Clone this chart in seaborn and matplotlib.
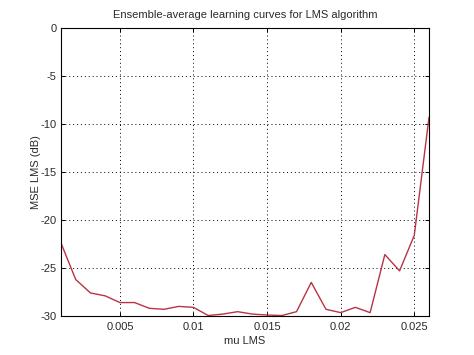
import numpy as np
import pandas as pd
import matplotlib
matplotlib.use("Agg")
import matplotlib.pyplot as plt
import seaborn as sns

mu = [0.001, 0.002, 0.003, 0.004, 0.005, 0.006, 0.007, 0.008, 0.009, 0.010,
      0.011, 0.012, 0.013, 0.014, 0.015, 0.016, 0.017, 0.018, 0.019, 0.020,
      0.021, 0.022, 0.023, 0.024, 0.025, 0.026]
mse_db = [-22.4, -26.2, -27.6, -27.9, -28.6, -28.6, -29.2, -29.3, -29.0, -29.1,
          -29.95, -29.8, -29.55, -29.8, -29.9, -29.95, -29.55, -26.5, -29.3, -29.65,
          -29.1, -29.65, -23.6, -25.3, -21.6, -9.3]
xticks = [0.005, 0.01, 0.015, 0.02, 0.025]
xticklabels = ["0.005", "0.01", "0.015", "0.02", "0.025"]
yticks = [0, -5, -10, -15, -20, -25, -30]

sns.set_style("white")
plt.rcParams['font.family'] = ['Liberation Sans', 'DejaVu Sans']
plt.rcParams['axes.unicode_minus'] = False

txt = "#2a2a2a"
df = pd.DataFrame({"mu": mu, "mse": mse_db})

fig = plt.figure(figsize=(4.74, 3.55), dpi=100)
ax = fig.add_axes([61/474, 39/355, (429-61)/474, (316-28)/355])
sns.lineplot(data=df, x="mu", y="mse", ax=ax, color="#b83444", linewidth=1.0)

ax.set_xlim(0.001, 0.026)
ax.set_ylim(-30, 0)
ax.set_xticks(xticks)
ax.set_xticklabels(xticklabels)
ax.set_yticks(yticks)
ax.grid(True, color="black", linestyle=(0, (1, 3)), linewidth=0.7)
for s in ax.spines.values():
    s.set_color("black")
    s.set_linewidth(0.8)
ax.tick_params(direction="in", length=3, width=0.7, labelsize=8, colors="black",
               labelcolor=txt, top=True, right=True, bottom=True, left=True, pad=4)
ax.tick_params(axis="y", pad=3)
ax.set_xlabel("mu LMS", fontsize=8, labelpad=3, color=txt)
ax.set_ylabel("MSE LMS (dB)", fontsize=8, labelpad=0, color=txt)
ax.set_title("Ensemble-average learning curves for LMS algorithm", fontsize=8, pad=7, color=txt)

fig.savefig("out.png", dpi=100)
